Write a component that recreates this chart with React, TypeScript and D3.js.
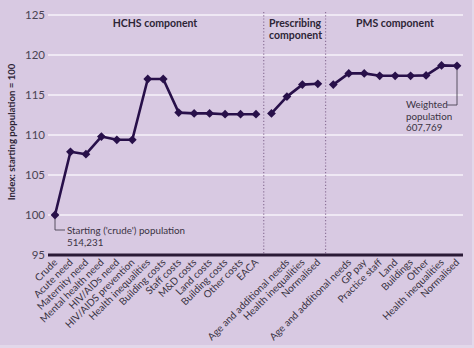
import React from "react";
import * as d3 from "d3";

const categories = [
  "Crude", "Acute need", "Maternity need", "Mental health need", "HIV/AIDs need",
  "HIV/AIDS prevention", "Health inequalities", "Building costs", "Staff costs",
  "M&D costs", "Land costs", "Building costs", "Other costs", "EACA",
  "", "Age and additional needs", "Health inequalities", "Normalised",
  "", "Age and additional needs", "GP pay", "Practice staff", "Land", "Buildings",
  "Other", "Health inequalities", "Normalised",
];
const values = [
  100, 107.9, 107.6, 109.8, 109.4, 109.4, 117.0, 117.0, 112.8, 112.7, 112.7, 112.6, 112.6, 112.6,
  112.7, 114.8, 116.3, 116.4,
  116.3, 117.7, 117.7, 117.4, 117.4, 117.4, 117.45, 118.7, 118.65,
];
const groups = [
  0, 0, 0, 0, 0, 0, 0, 0, 0, 0, 0, 0, 0, 0,
  1, 1, 1, 1,
  2, 2, 2, 2, 2, 2, 2, 2, 2,
];
const yTicks = [95, 100, 105, 110, 115, 120, 125];
const groupTitles = ["HCHS component", "Prescribing component", "PMS component"];

const W = 474, H = 348;
const FONT = "Lato, 'Open Sans', sans-serif";

export default function App() {
  const x = d3.scaleLinear().domain([0, categories.length - 1]).range([55, 457]);
  const y = d3.scaleLinear().domain([95, 125]).range([255, 15]);
  const step = x(1) - x(0);
  const data = values.map((v, i) => ({ i, v, g: groups[i] }));
  const line = d3.line<any>().x((d) => x(d.i)).y((d) => y(d.v));
  const segs = [0, 1, 2].map((g) => data.filter((d) => d.g === g));
  const boundaries = [13, 17].map((i) => x(i) + step / 2);
  const diamond = (cx: number, cy: number, r: number) =>
    `M${cx},${cy - r}L${cx + r},${cy}L${cx},${cy + r}L${cx - r},${cy}Z`;
  const lineColor = "#28104a";
  const last = data[data.length - 1];

  return (
    <div style={{ position: "absolute", left: 0, top: 0 }}>
      <svg width={W} height={H} style={{ display: "block", fontFamily: FONT }}>
        <rect x={0} y={0} width={W} height={H} fill="#e2d8ea" />
        <rect x={0} y={0} width={W - 2} height={H - 3} fill="#d8c9e2" />
        {yTicks.map((t) => (
          <g key={t}>
            {t !== 95 && (
              <line x1={48} x2={463} y1={y(t)} y2={y(t)} stroke="#f7f2fa" strokeWidth={1.6} />
            )}
            <text x={45} y={y(t)} dy="0.35em" textAnchor="end" fontSize={11.5} fill="#4a4452">
              {t}
            </text>
          </g>
        ))}
        {boundaries.map((bx, k) => (
          <line key={k} x1={bx} x2={bx} y1={12} y2={255} stroke="#8d7399" strokeWidth={1.2} strokeDasharray="1.2,2" />
        ))}
        <line x1={48} x2={463} y1={y(95)} y2={y(95)} stroke="#2a1a36" strokeWidth={2.8} />
        <text
          transform={`translate(15,${132}) rotate(-90)`}
          textAnchor="middle"
          fontSize={9.6}
          fontWeight="bold"
          fill="#2d2536"
        >
          Index: starting population = 100
        </text>
        <text x={155} y={27} textAnchor="middle" fontSize={10.5} fontWeight="bold" fill="#2d2536">
          {groupTitles[0]}
        </text>
        <text x={269} y={27} fontSize={10.5} fontWeight="bold" fill="#2d2536">
          <tspan x={269}>Prescribing</tspan>
          <tspan x={269} dy={12}>component</tspan>
        </text>
        <text x={395} y={27} textAnchor="middle" fontSize={10.5} fontWeight="bold" fill="#2d2536">
          {groupTitles[2]}
        </text>
        {segs.map((s, k) => (
          <path key={k} d={line(s) || ""} fill="none" stroke={lineColor} strokeWidth={2.6} strokeLinejoin="round" />
        ))}
        {data.map((d) => (
          <path key={d.i} d={diamond(x(d.i), y(d.v), 4.4)} fill={lineColor} />
        ))}
        {categories.map((c, i) =>
          c ? (
            <text
              key={i}
              transform={`translate(${x(i) + 3},${263}) rotate(-45)`}
              textAnchor="end"
              fontSize={10}
              fill="#3a3342"
            >
              {c}
            </text>
          ) : null
        )}
        <path
          d={`M${x(0)},${y(100) + 4}V${y(100) + 15}H${x(0) + 10}`}
          fill="none"
          stroke="#4a4452"
          strokeWidth={0.9}
        />
        <text fontSize={9.8} fill="#3a3342">
          <tspan x={67} y={234}>Starting ('crude') population</tspan>
          <tspan x={67} y={245.5}>514,231</tspan>
        </text>
        <path
          d={`M${x(last.i)},${y(last.v) + 4}V${105}H${447}`}
          fill="none"
          stroke="#4a4452"
          strokeWidth={0.9}
        />
        <text fontSize={9.8} fill="#3a3342">
          <tspan x={406} y={108}>Weighted</tspan>
          <tspan x={406} y={119.5}>population</tspan>
          <tspan x={406} y={131}>607,769</tspan>
        </text>
      </svg>
    </div>
  );
}
